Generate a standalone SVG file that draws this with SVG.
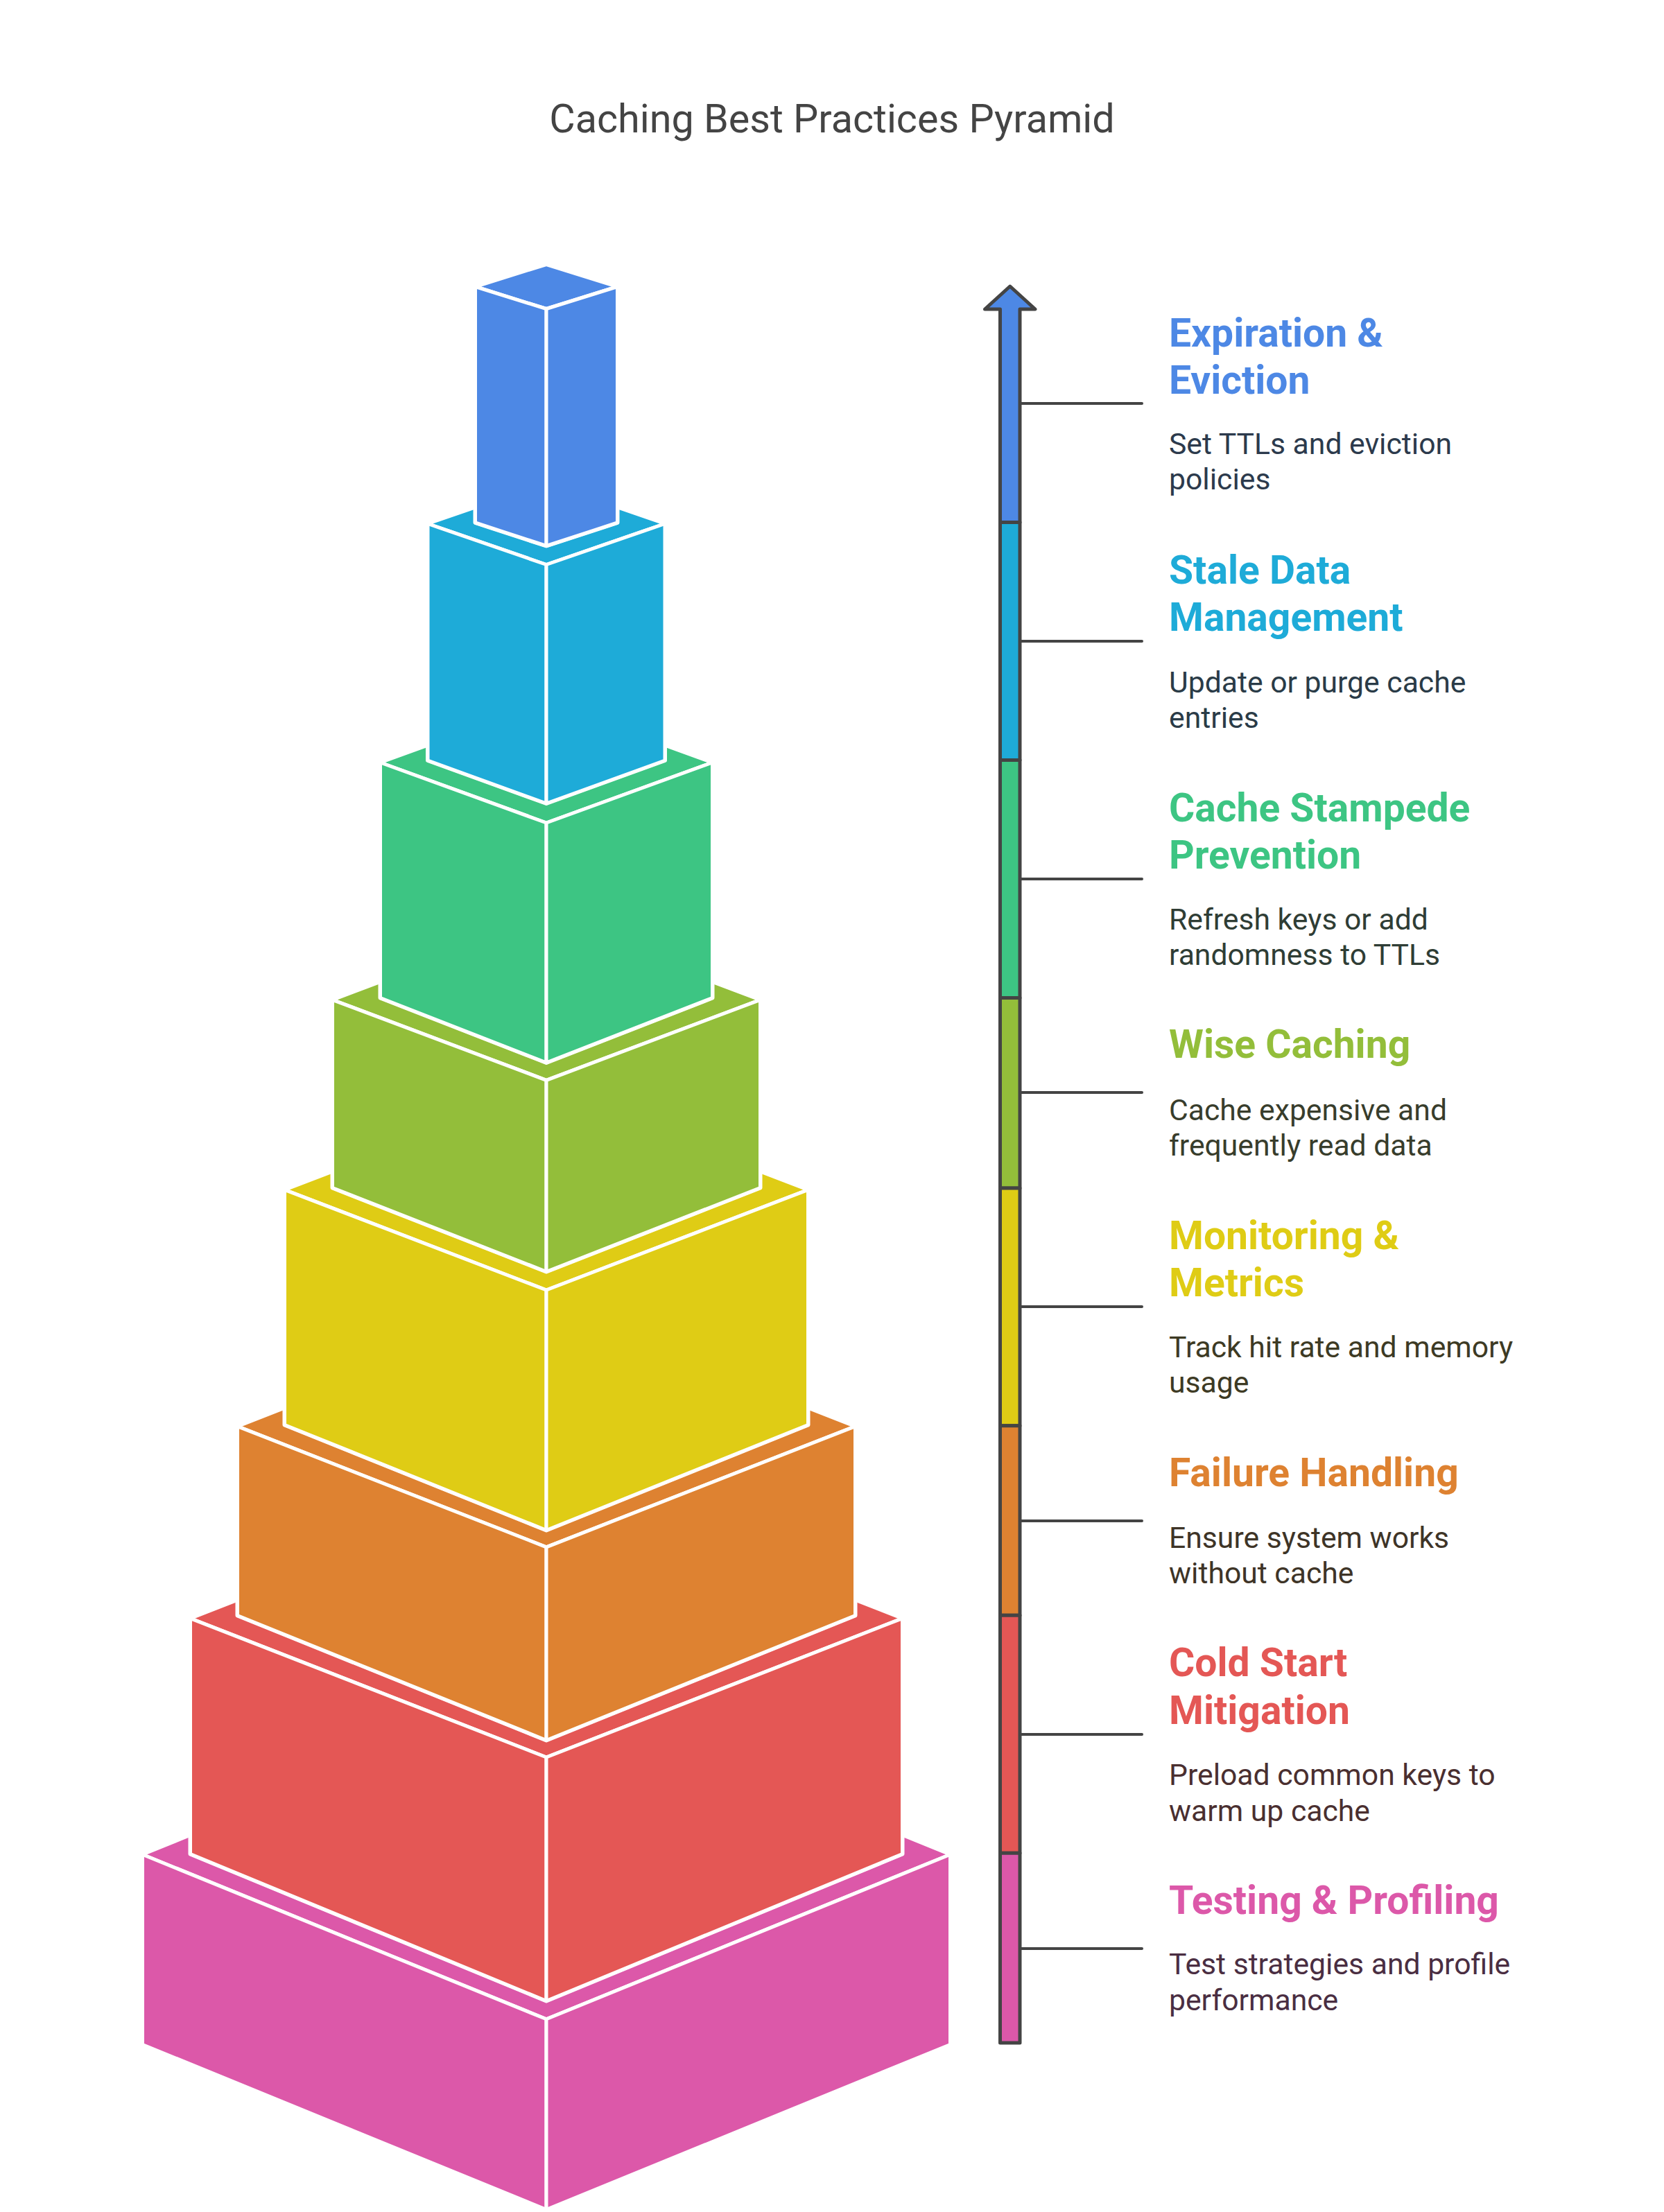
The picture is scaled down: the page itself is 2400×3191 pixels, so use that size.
<svg xmlns="http://www.w3.org/2000/svg" width="2400" height="3191" viewBox="0 0 2400 3191">
<style>
.sil{fill:#fff;stroke:#fff;stroke-width:6;stroke-linejoin:round}
.face{stroke:#fff;stroke-width:5;stroke-linejoin:round}
.bar{stroke:#444;stroke-width:5;stroke-linejoin:round}
.tick{stroke:#444;stroke-width:4;stroke-linecap:round;fill:none}
.h{font-family:Roboto,"Liberation Sans",sans-serif;font-weight:700;font-size:57px}
.d{font-family:Roboto,"Liberation Sans",sans-serif;font-size:42.7px}
.title{font-family:Roboto,"Liberation Sans",sans-serif;font-size:57.5px;fill:#444}
.c0{fill:#4D88E5}.c1{fill:#1EABD8}.c2{fill:#3DC583}.c3{fill:#93BE3A}
.c4{fill:#DFCC15}.c5{fill:#DE8231}.c6{fill:#E45755}.c7{fill:#DC58A9}
</style>
<rect width="2400" height="3191" fill="#fff"/>
<text class="title" x="1200" y="191" text-anchor="middle">Caching Best Practices Pyramid</text>

<g id="level-testing-profiling">
<polygon class="sil" points="205.5,2675.3 788,2437.8 1370.5,2675.3 1370.5,2949.5 788,3187.5 205.5,2949.5"/>
<polygon class="face c7" points="205.5,2675.3 788,2437.8 1370.5,2675.3 788,2912.8"/>
<polygon class="face c7" points="205.5,2675.3 788,2912.8 788,3187.5 205.5,2949.5"/>
<polygon class="face c7" points="1370.5,2675.3 788,2912.8 788,3187.5 1370.5,2949.5"/>
</g>
<g id="level-cold-start">
<polygon class="sil" points="274.5,2334.6 788,2134.2 1301.5,2334.6 1301.5,2674.5 788,2886.5 274.5,2674.5"/>
<polygon class="face c6" points="274.5,2334.6 788,2134.2 1301.5,2334.6 788,2535"/>
<polygon class="face c6" points="274.5,2334.6 788,2535 788,2886.5 274.5,2674.5"/>
<polygon class="face c6" points="1301.5,2334.6 788,2535 788,2886.5 1301.5,2674.5"/>
</g>
<g id="level-failure-handling">
<polygon class="sil" points="342.5,2057.6 788,1883.4 1233.5,2057.6 1233.5,2330.5 788,2510.5 342.5,2330.5"/>
<polygon class="face c5" points="342.5,2057.6 788,1883.4 1233.5,2057.6 788,2231.8"/>
<polygon class="face c5" points="342.5,2057.6 788,2231.8 788,2510.5 342.5,2330.5"/>
<polygon class="face c5" points="1233.5,2057.6 788,2231.8 788,2510.5 1233.5,2330.5"/>
</g>
<g id="level-monitoring">
<polygon class="sil" points="410.5,1716.4 788,1571.8 1165.5,1716.4 1165.5,2055.5 788,2207.5 410.5,2055.5"/>
<polygon class="face c4" points="410.5,1716.4 788,1571.8 1165.5,1716.4 788,1861"/>
<polygon class="face c4" points="410.5,1716.4 788,1861 788,2207.5 410.5,2055.5"/>
<polygon class="face c4" points="1165.5,1716.4 788,1861 788,2207.5 1165.5,2055.5"/>
</g>
<g id="level-wise-caching">
<polygon class="sil" points="479.5,1442.3 788,1326.3 1096.5,1442.3 1096.5,1713.5 788,1834.5 479.5,1713.5"/>
<polygon class="face c3" points="479.5,1442.3 788,1326.3 1096.5,1442.3 788,1558.3"/>
<polygon class="face c3" points="479.5,1442.3 788,1558.3 788,1834.5 479.5,1713.5"/>
<polygon class="face c3" points="1096.5,1442.3 788,1558.3 788,1834.5 1096.5,1713.5"/>
</g>
<g id="level-stampede">
<polygon class="sil" points="548.5,1100 788,1013 1027.5,1100 1027.5,1439.5 788,1533 548.5,1439.5"/>
<polygon class="face c2" points="548.5,1100 788,1013 1027.5,1100 788,1187"/>
<polygon class="face c2" points="548.5,1100 788,1187 788,1533 548.5,1439.5"/>
<polygon class="face c2" points="1027.5,1100 788,1187 788,1533 1027.5,1439.5"/>
</g>
<g id="level-stale-data">
<polygon class="sil" points="617,755.5 788,696.5 959,755.5 959,1097 788,1159 617,1097"/>
<polygon class="face c1" points="617,755.5 788,696.5 959,755.5 788,814.5"/>
<polygon class="face c1" points="617,755.5 788,814.5 788,1159 617,1097"/>
<polygon class="face c1" points="959,755.5 788,814.5 788,1159 959,1097"/>
</g>
<g id="level-expiration">
<polygon class="sil" points="685.5,413.5 788,381.5 890.5,413.5 890.5,754 788,787.5 685.5,754"/>
<polygon class="face c0" points="685.5,413.5 788,381.5 890.5,413.5 788,445.5"/>
<polygon class="face c0" points="685.5,413.5 788,445.5 788,787.5 685.5,754"/>
<polygon class="face c0" points="890.5,413.5 788,445.5 788,787.5 890.5,754"/>
</g>

<g id="scale-arrow">
<polygon class="bar c0" points="1442.5,753.6 1442.5,446 1420.5,446 1456.75,413 1493,446 1471,446 1471,753.6"/>
<rect class="bar c1" x="1442.5" y="753.6" width="28.5" height="342.9"/>
<rect class="bar c2" x="1442.5" y="1096.5" width="28.5" height="342.9"/>
<rect class="bar c3" x="1442.5" y="1439.4" width="28.5" height="274.6"/>
<rect class="bar c4" x="1442.5" y="1714" width="28.5" height="342.7"/>
<rect class="bar c5" x="1442.5" y="2056.7" width="28.5" height="273.6"/>
<rect class="bar c6" x="1442.5" y="2330.3" width="28.5" height="342.9"/>
<rect class="bar c7" x="1442.5" y="2673.2" width="28.5" height="273.8"/>
</g>

<g id="connectors">
<line class="tick" x1="1471" y1="582" x2="1647" y2="582"/>
<line class="tick" x1="1471" y1="925" x2="1647" y2="925"/>
<line class="tick" x1="1471" y1="1268" x2="1647" y2="1268"/>
<line class="tick" x1="1471" y1="1576" x2="1647" y2="1576"/>
<line class="tick" x1="1471" y1="1885" x2="1647" y2="1885"/>
<line class="tick" x1="1471" y1="2194" x2="1647" y2="2194"/>
<line class="tick" x1="1471" y1="2502" x2="1647" y2="2502"/>
<line class="tick" x1="1471" y1="2811" x2="1647" y2="2811"/>
</g>

<g id="label-expiration">
<text class="h c0" x="1686" y="500">Expiration &amp;</text>
<text class="h c0" x="1686" y="568">Eviction</text>
<text class="d" fill="#2C3A4C" x="1686" y="655">Set TTLs and eviction</text>
<text class="d" fill="#2C3A4C" x="1686" y="706">policies</text>
</g>
<g id="label-stale-data">
<text class="h c1" x="1686" y="842">Stale Data</text>
<text class="h c1" x="1686" y="910">Management</text>
<text class="d" fill="#2A3B47" x="1686" y="999">Update or purge cache</text>
<text class="d" fill="#2A3B47" x="1686" y="1050">entries</text>
</g>
<g id="label-stampede">
<text class="h c2" x="1686" y="1185">Cache Stampede</text>
<text class="h c2" x="1686" y="1253">Prevention</text>
<text class="d" fill="#2F3D35" x="1686" y="1341">Refresh keys or add</text>
<text class="d" fill="#2F3D35" x="1686" y="1392">randomness to TTLs</text>
</g>
<g id="label-wise-caching">
<text class="h c3" x="1686" y="1526">Wise Caching</text>
<text class="d" fill="#383D2C" x="1686" y="1616">Cache expensive and</text>
<text class="d" fill="#383D2C" x="1686" y="1667">frequently read data</text>
</g>
<g id="label-monitoring">
<text class="h c4" x="1686" y="1802">Monitoring &amp;</text>
<text class="h c4" x="1686" y="1870">Metrics</text>
<text class="d" fill="#3D3A24" x="1686" y="1958">Track hit rate and memory</text>
<text class="d" fill="#3D3A24" x="1686" y="2009">usage</text>
</g>
<g id="label-failure-handling">
<text class="h c5" x="1686" y="2144">Failure Handling</text>
<text class="d" fill="#3E3427" x="1686" y="2233">Ensure system works</text>
<text class="d" fill="#3E3427" x="1686" y="2284">without cache</text>
</g>
<g id="label-cold-start">
<text class="h c6" x="1686" y="2418">Cold Start</text>
<text class="h c6" x="1686" y="2487">Mitigation</text>
<text class="d" fill="#4A2F30" x="1686" y="2575">Preload common keys to</text>
<text class="d" fill="#4A2F30" x="1686" y="2627">warm up cache</text>
</g>
<g id="label-testing-profiling">
<text class="h c7" x="1686" y="2761">Testing &amp; Profiling</text>
<text class="d" fill="#4A2E42" x="1686" y="2848">Test strategies and profile</text>
<text class="d" fill="#4A2E42" x="1686" y="2900">performance</text>
</g>
</svg>
